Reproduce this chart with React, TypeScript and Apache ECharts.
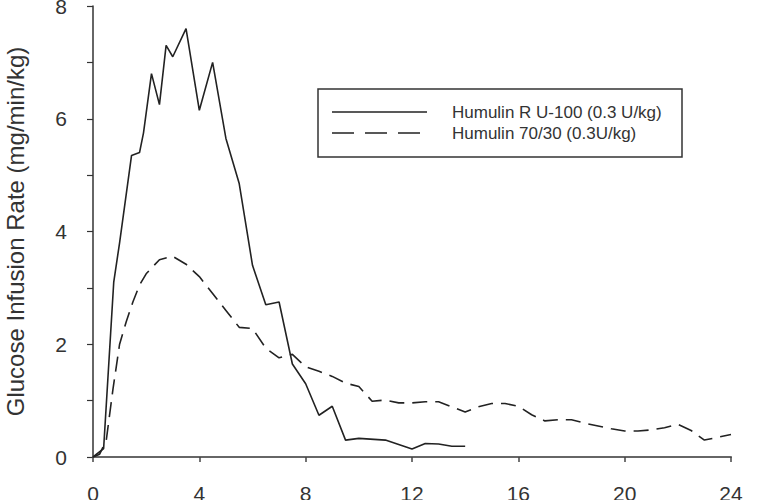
import React, { useEffect, useRef } from "react";
import * as echarts from "echarts";

const seriesNames = ["Humulin R U-100 (0.3 U/kg)", "Humulin 70/30 (0.3U/kg)"];

const regularTimes = [0, 0.4, 0.78, 1.0, 1.45, 1.75, 1.9, 2.2, 2.5, 2.75, 3.0, 3.5, 4.0, 4.5, 5.0, 5.5, 6.0, 6.5, 7.0, 7.5, 8.0, 8.5, 9.0, 9.5, 10, 11, 12, 12.5, 13, 13.5, 14];
const regularValues = [0, 0.15, 3.1, 3.8, 5.35, 5.4, 5.75, 6.8, 6.25, 7.3, 7.1, 7.6, 6.15, 7.0, 5.65, 4.85, 3.4, 2.7, 2.75, 1.65, 1.3, 0.74, 0.9, 0.3, 0.33, 0.3, 0.14, 0.24, 0.23, 0.19, 0.19];

const mixTimes = [0, 0.25, 0.5, 0.75, 1.0, 1.25, 1.5, 1.75, 2.0, 2.5, 3.0, 3.5, 4.0, 4.5, 5.0, 5.5, 6.0, 6.5, 7.0, 7.5, 8.0, 8.5, 9.0, 9.5, 10, 10.5, 11, 11.5, 12, 12.5, 13, 13.5, 14, 14.5, 15, 15.5, 16, 16.5, 17, 17.5, 18, 18.5, 19, 19.5, 20, 20.5, 21, 21.5, 22, 22.5, 23, 23.5, 24];
const mixValues = [0, 0.05, 0.3, 1.2, 2.0, 2.4, 2.75, 3.05, 3.25, 3.5, 3.56, 3.42, 3.2, 2.9, 2.6, 2.3, 2.28, 1.93, 1.76, 1.82, 1.6, 1.52, 1.43, 1.31, 1.25, 0.99, 1.01, 0.96, 0.96, 0.98, 0.98, 0.89, 0.8, 0.89, 0.95, 0.95, 0.9, 0.75, 0.64, 0.66, 0.66, 0.6, 0.55, 0.5, 0.46, 0.46, 0.48, 0.52, 0.58, 0.47, 0.3, 0.35, 0.4];

const xTicks = { min: 0, max: 24, interval: 4 };
const yTicks = { min: 0, max: 8, interval: 1, labelEvery: 2 };
const yAxisTitle = "Glucose Infusion Rate (mg/min/kg)";

const FONT = "'Liberation Sans', Arial, sans-serif";

export default function App() {
  const ref = useRef<HTMLDivElement>(null);
  useEffect(() => {
    if (!ref.current) return;
    const chart = echarts.init(ref.current, null, { renderer: "svg" });
    const pair = (ts: number[], vs: number[]) => ts.map((t, i) => [t, vs[i]]);
    chart.setOption({
      animation: false,
      backgroundColor: "#ffffff",
      textStyle: { fontFamily: FONT },
      grid: { left: 93, right: 37, top: 6, bottom: 43, containLabel: false, outerBoundsMode: "none" },
      xAxis: {
        type: "value",
        min: xTicks.min,
        max: xTicks.max,
        interval: xTicks.interval,
        offset: 8,
        axisLine: { show: true, lineStyle: { color: "#666", width: 2.2 } },
        axisTick: { show: true, length: 5, lineStyle: { color: "#444", width: 1.5 } },
        axisLabel: { fontSize: 21, color: "#333", margin: 18, fontFamily: FONT },
        splitLine: { show: false },
      },
      yAxis: {
        type: "value",
        min: yTicks.min,
        max: yTicks.max,
        interval: yTicks.interval,
        offset: 14,
        name: yAxisTitle,
        nameLocation: "middle",
        nameGap: 52,
        nameTextStyle: { fontSize: 24, color: "#333", fontFamily: FONT },
        axisLine: { show: true, lineStyle: { color: "#333", width: 1.5 } },
        axisTick: { show: true, length: 6, lineStyle: { color: "#333", width: 1.2 } },
        axisLabel: {
          fontSize: 21,
          color: "#333",
          margin: 12,
          fontFamily: FONT,
          formatter: (v: number) => (v % yTicks.labelEvery === 0 ? String(v) : ""),
        },
        splitLine: { show: false },
      },
      series: [
        {
          name: seriesNames[0],
          type: "line",
          data: pair(regularTimes, regularValues),
          symbol: "none",
          lineStyle: { color: "#222", width: 1.6, type: "solid" },
        },
        {
          name: seriesNames[1],
          type: "line",
          data: pair(mixTimes, mixValues),
          symbol: "none",
          lineStyle: { color: "#222", width: 1.6, type: [15, 8] },
        },
      ],
      graphic: [
        {
          type: "rect",
          shape: { x: 318, y: 89, width: 364, height: 68 },
          style: { fill: "#fff", stroke: "#333", lineWidth: 1.5 },
        },
        {
          type: "line",
          shape: { x1: 332, y1: 112, x2: 427, y2: 112 },
          style: { stroke: "#222", lineWidth: 1.6 },
        },
        {
          type: "line",
          shape: { x1: 332, y1: 133, x2: 420, y2: 133 },
          style: { stroke: "#222", lineWidth: 1.6, lineDash: [22, 11] },
        },
        {
          type: "text",
          x: 452,
          y: 112,
          style: { text: seriesNames[0], fontSize: 17, fill: "#333", font: `17px ${FONT}`, verticalAlign: "middle", align: "left" },
        },
        {
          type: "text",
          x: 452,
          y: 133,
          style: { text: seriesNames[1], fontSize: 17, fill: "#333", font: `17px ${FONT}`, verticalAlign: "middle", align: "left" },
        },
      ],
    });
    return () => chart.dispose();
  }, []);
  return <div ref={ref} style={{ width: 768, height: 500, position: "absolute", left: 0, top: 0 }} />;
}
